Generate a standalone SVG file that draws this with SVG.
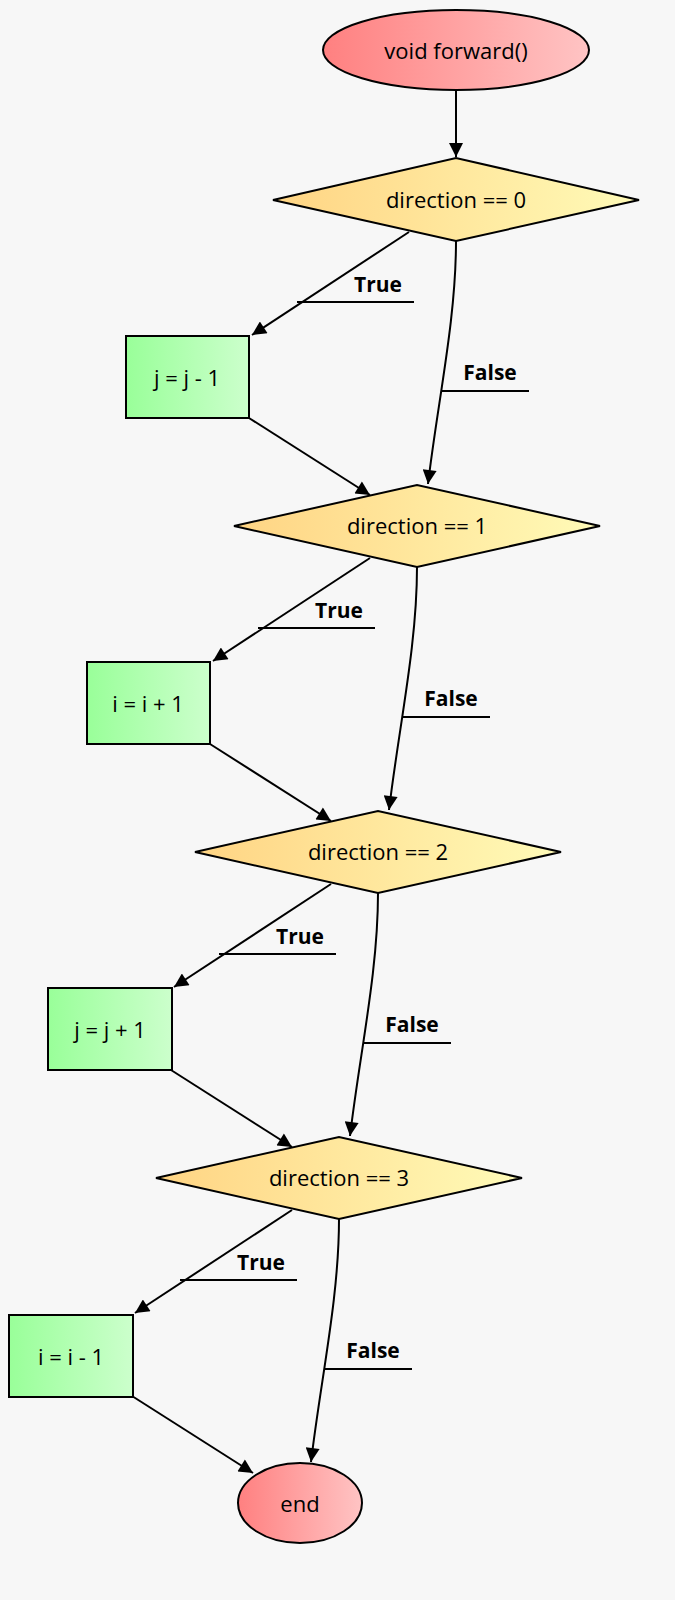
<svg xmlns="http://www.w3.org/2000/svg" width="675" height="1600" viewBox="0 0 675 1600">
<style>
.t{font-family:"Open Sans","Noto Sans",sans-serif;font-size:22px;fill:#000;text-anchor:middle;dominant-baseline:central}
.l{font-family:"Open Sans","Noto Sans",sans-serif;font-size:21px;font-weight:bold;fill:#000;text-anchor:middle}
.s{stroke:#000;stroke-width:2}
.e{fill:none;stroke:#000;stroke-width:2;marker-end:url(#a)}
.u{stroke:#000;stroke-width:2}
</style>
<defs>
<linearGradient id="gr"><stop offset="0" stop-color="#ff8080"/><stop offset="1" stop-color="#ffc4c4"/></linearGradient>
<linearGradient id="gy"><stop offset="0" stop-color="#ffd483"/><stop offset="1" stop-color="#fffbb8"/></linearGradient>
<linearGradient id="gg"><stop offset="0" stop-color="#99ff99"/><stop offset="1" stop-color="#ccffcc"/></linearGradient>
<marker id="a" viewBox="0 0 10 10" refX="10" refY="5" markerWidth="15" markerHeight="14" markerUnits="userSpaceOnUse" orient="auto"><path d="M0,0L10,5L0,10z" fill="#000"/></marker>
<g id="stage">
<path class="e" d="M409,232L252,335"/>
<line class="u" x1="297" y1="302" x2="414" y2="302"/>
<text class="l" x="378" y="292">True</text>
<path class="e" d="M456,241C456,320 438,400 428,484"/>
<line class="u" x1="441" y1="391" x2="529" y2="391"/>
<text class="l" x="490" y="380">False</text>
<path class="e" d="M249,418L370,495"/>
</g>
</defs>
<rect width="675" height="1600" fill="#f7f7f7"/>
<g id="connectors">
<path class="e" d="M456,91L456,157"/>
<use href="#stage"/>
<use href="#stage" transform="translate(-39,326)"/>
<use href="#stage" transform="translate(-78,652)"/>
<use href="#stage" transform="translate(-117,978)"/>
</g>
<g id="start"><ellipse class="s" cx="456" cy="50" rx="133" ry="40" fill="url(#gr)"/><text class="t" x="456" y="50">void forward()</text></g>
<g id="d0"><polygon class="s" points="273,200 456,158 639,200 456,241" fill="url(#gy)"/><text class="t" x="456" y="199">direction == 0</text></g>
<g id="b0"><rect class="s" x="126" y="336" width="123" height="82" fill="url(#gg)"/><text class="t" x="187" y="377">j = j - 1</text></g>
<g id="d1"><polygon class="s" points="234,526 417,485 600,526 417,567" fill="url(#gy)"/><text class="t" x="417" y="525">direction == 1</text></g>
<g id="b1"><rect class="s" x="87" y="662" width="123" height="82" fill="url(#gg)"/><text class="t" x="148" y="703">i = i + 1</text></g>
<g id="d2"><polygon class="s" points="195,852 378,811 561,852 378,893" fill="url(#gy)"/><text class="t" x="378" y="851">direction == 2</text></g>
<g id="b2"><rect class="s" x="48" y="988" width="124" height="82" fill="url(#gg)"/><text class="t" x="110" y="1029">j = j + 1</text></g>
<g id="d3"><polygon class="s" points="156,1178 339,1137 522,1178 339,1219" fill="url(#gy)"/><text class="t" x="339" y="1177">direction == 3</text></g>
<g id="b3"><rect class="s" x="9" y="1315" width="124" height="82" fill="url(#gg)"/><text class="t" x="71" y="1356">i = i - 1</text></g>
<g id="end"><ellipse class="s" cx="300" cy="1503" rx="62" ry="40" fill="url(#gr)"/><text class="t" x="300" y="1503">end</text></g>
</svg>
